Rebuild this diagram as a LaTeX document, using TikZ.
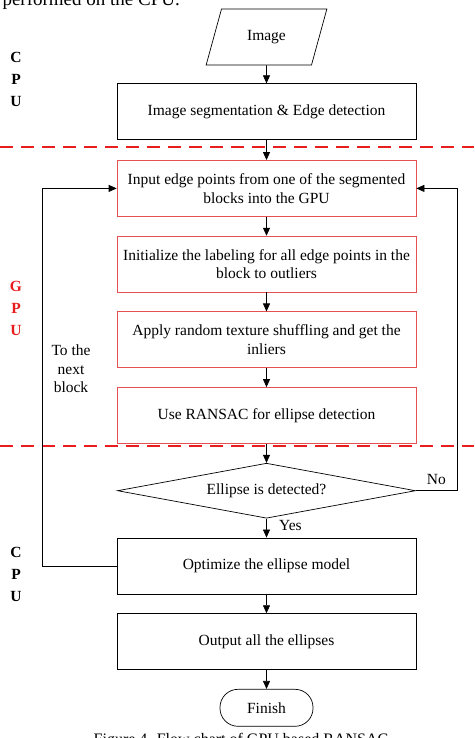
\documentclass[tikz,border=0pt]{standalone}
\usepackage{fontspec}
\setmainfont{Liberation Serif}
\usetikzlibrary{arrows.meta,positioning,shapes.geometric}
\definecolor{GRed}{RGB}{230,80,80}
\definecolor{SRed}{RGB}{232,30,30}
\begin{document}
\begin{tikzpicture}[x=1pt,y=1pt,
  node distance=19pt,
  font=\fontsize{15.5}{18.6}\selectfont,
  box/.style={draw,align=center,minimum width=299pt,minimum height=56pt,
              inner sep=2pt,line width=0.7pt},
  gbox/.style={box,draw=GRed},
  io/.style={trapezium,trapezium left angle=69,trapezium right angle=111,
             trapezium stretches=true,draw,line width=0.7pt,
             minimum width=121pt,minimum height=56pt},
  dec/.style={diamond,draw,aspect=5.4,line width=0.7pt,inner sep=1pt,
              minimum width=298pt,minimum height=55pt},
  terminal/.style={draw,rounded corners=18pt,line width=0.7pt,
                   minimum width=93pt,minimum height=37pt},
  arrow/.style={-{Triangle[length=8pt,width=7pt]},line width=0.7pt},
  sep/.style={draw=SRed,line width=2.2pt,dash pattern=on 13pt off 8pt},
  side/.style={font=\fontsize{15.5}{22}\selectfont\bfseries,align=center}
]
\useasboundingbox (0,0) rectangle (474,-738);
\clip (0,0) rectangle (474,-738);

\node[io] (img) at (266.5,-37) {Image};
\node[box,below=18pt of img] (seg) {Image segmentation \& Edge detection};
\node[gbox,below=20pt of seg] (inp) {Input edge points from one of the segmented\\blocks into the GPU};
\node[gbox,below=of inp] (init) {Initialize the labeling for all edge points in the\\block to outliers};
\node[gbox,below=of init] (shuf) {Apply random texture shuffling and get the\\inliers};
\node[gbox,below=of shuf] (ransac) {Use RANSAC for ellipse detection};
\node[dec,below=of ransac] (det) {Ellipse is detected?};
\node[box,below=of det] (opt) {Optimize the ellipse model};
\node[box,below=of opt] (out) {Output all the ellipses};
\node[terminal,below=of out] (fin) {Finish};

\node[side] (cpuA) at (16,-79) {C\\P\\U};
\node[side,text=SRed] (gpu) at (16,-308) {G\\P\\U};
\node[side] (cpuB) at (16,-574) {C\\P\\U};
\node[align=center] (next) at (71,-369) {To the\\next\\block};

% page text cut by the figure edge
\node[anchor=base west,font=\fontsize{19}{20}\selectfont] (prev) at (-1,-6) {performed on the CPU.};
\node[anchor=base,font=\fontsize{16}{18}\selectfont] (cap) at (241,-744) {Figure 4. Flow chart of GPU based RANSAC};

\draw[sep] (0,-147) -- (474,-147);
\draw[sep] (0,-446) -- (474,-446);

\draw[arrow] (img)--(seg); \draw[arrow] (seg)--(inp); \draw[arrow] (inp)--(init);
\draw[arrow] (init)--(shuf); \draw[arrow] (shuf)--(ransac); \draw[arrow] (ransac)--(det);
\draw[arrow] (det)--(opt) node[pos=0.35,right=9pt]{Yes};
\draw[arrow] (opt)--(out); \draw[arrow] (out)--(fin);
\draw[arrow] (det.east) -- ++(41,0) node[midway,above=2pt]{No} |- (inp.east);
\draw[arrow] (opt.west) -- ++(-74,0) |- (inp.west);
\end{tikzpicture}
\end{document}
